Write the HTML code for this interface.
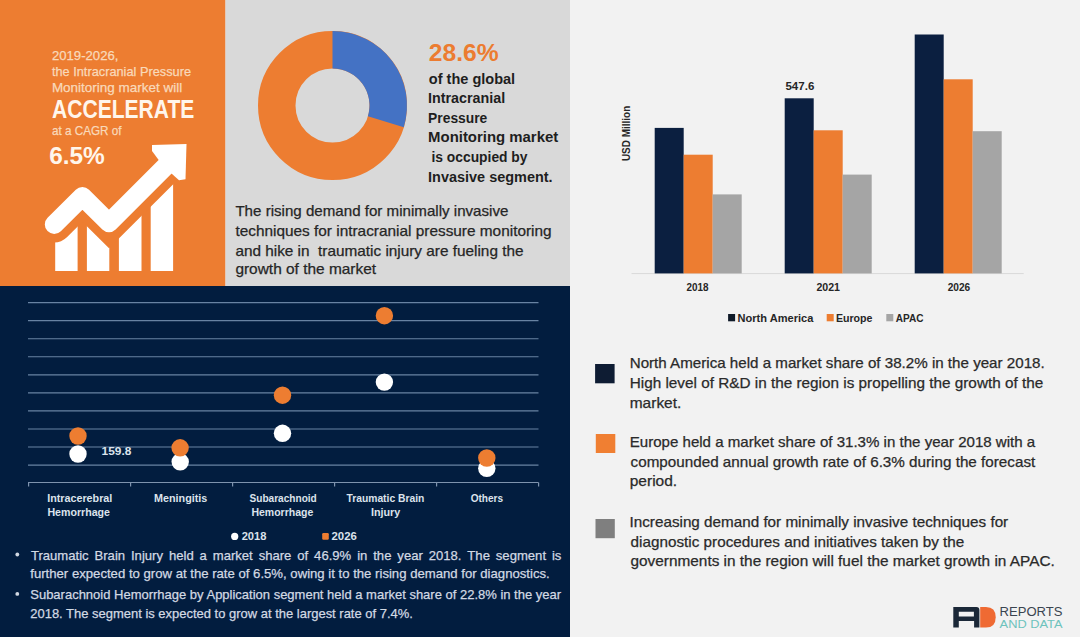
<!DOCTYPE html>
<html><head><meta charset="utf-8"><style>
html,body{margin:0;padding:0;background:#F2F2F2;width:1080px;height:637px;overflow:hidden;font-family:"Liberation Sans",sans-serif;}
svg{display:block;}
text{white-space:pre;}
</style></head><body>
<svg width="1080" height="637" viewBox="0 0 1080 637">
<rect x="0" y="0" width="1080" height="637" fill="#F2F2F2"/>
<rect x="0" y="0" width="225.5" height="286" fill="#ED7D31"/>
<rect x="225.5" y="0" width="344.5" height="286" fill="#D9D9D9"/>
<rect x="0" y="286" width="570" height="351" fill="#021D3F"/>
<rect x="55.2" y="200" width="22.4" height="71" fill="#FFFFFF"/>
<rect x="86.9" y="170" width="22.4" height="101" fill="#FFFFFF"/>
<rect x="118.9" y="170" width="22.6" height="101" fill="#FFFFFF"/>
<rect x="150.7" y="170" width="22.4" height="101" fill="#FFFFFF"/>
<polyline points="54.2,224.5 82.4,196.5 109,222.9 172,159.9" fill="none" stroke="#ED7D31" stroke-width="36" stroke-linejoin="miter" stroke-linecap="round"/>
<polygon points="30,248.7 82.4,196.5 109,222.9 190,141.9 190,100 30,100" fill="#ED7D31"/>
<polyline points="54.2,224.5 82.4,196.5 109,222.9 172,159.9" fill="none" stroke="#FFFFFF" stroke-width="18.8" stroke-linejoin="round" stroke-linecap="round"/>
<polygon points="152,145 186.5,144 185.5,179.3 179,180.2 171.5,173.6 158.7,160 152,151" fill="#FFFFFF"/>
<circle cx="332.5" cy="105.5" r="55.75" fill="none" stroke="#ED7D31" stroke-width="37.5"/>
<path d="M332.5,31.0 A74.5,74.5 0 0 1 403.78,127.18 L367.90,116.27 A37,37 0 0 0 332.5,68.5 Z" fill="#4472C4"/>
<line x1="28" y1="302.60" x2="538.5" y2="302.60" stroke="#6883A3" stroke-width="1.15"/>
<line x1="28" y1="320.65" x2="538.5" y2="320.65" stroke="#6883A3" stroke-width="1.15"/>
<line x1="28" y1="338.70" x2="538.5" y2="338.70" stroke="#6883A3" stroke-width="1.15"/>
<line x1="28" y1="356.75" x2="538.5" y2="356.75" stroke="#6883A3" stroke-width="1.15"/>
<line x1="28" y1="374.80" x2="538.5" y2="374.80" stroke="#6883A3" stroke-width="1.15"/>
<line x1="28" y1="392.85" x2="538.5" y2="392.85" stroke="#6883A3" stroke-width="1.15"/>
<line x1="28" y1="410.90" x2="538.5" y2="410.90" stroke="#6883A3" stroke-width="1.15"/>
<line x1="28" y1="428.95" x2="538.5" y2="428.95" stroke="#6883A3" stroke-width="1.15"/>
<line x1="28" y1="447.00" x2="538.5" y2="447.00" stroke="#6883A3" stroke-width="1.15"/>
<line x1="28" y1="465.05" x2="538.5" y2="465.05" stroke="#6883A3" stroke-width="1.15"/>
<line x1="28" y1="482.5" x2="538.5" y2="482.5" stroke="#7E93AE" stroke-width="1.2"/>
<line x1="28.6" y1="482.5" x2="28.6" y2="486.5" stroke="#7E93AE" stroke-width="1.2"/>
<line x1="130.6" y1="482.5" x2="130.6" y2="486.5" stroke="#7E93AE" stroke-width="1.2"/>
<line x1="232.6" y1="482.5" x2="232.6" y2="486.5" stroke="#7E93AE" stroke-width="1.2"/>
<line x1="334.6" y1="482.5" x2="334.6" y2="486.5" stroke="#7E93AE" stroke-width="1.2"/>
<line x1="436.6" y1="482.5" x2="436.6" y2="486.5" stroke="#7E93AE" stroke-width="1.2"/>
<line x1="538.6" y1="482.5" x2="538.6" y2="486.5" stroke="#7E93AE" stroke-width="1.2"/>
<circle cx="78" cy="454" r="8.7" fill="#FFFFFF"/>
<circle cx="180.2" cy="461.8" r="8.7" fill="#FFFFFF"/>
<circle cx="282.5" cy="433.3" r="8.7" fill="#FFFFFF"/>
<circle cx="384.4" cy="382.1" r="8.7" fill="#FFFFFF"/>
<circle cx="486.8" cy="468.3" r="8.7" fill="#FFFFFF"/>
<circle cx="78" cy="436" r="8.7" fill="#ED7D31"/>
<circle cx="180.1" cy="447.8" r="8.7" fill="#ED7D31"/>
<circle cx="282.5" cy="395.2" r="8.7" fill="#ED7D31"/>
<circle cx="384.4" cy="315.7" r="8.7" fill="#ED7D31"/>
<circle cx="486.8" cy="458" r="8.7" fill="#ED7D31"/>
<circle cx="234.7" cy="536.4" r="3.6" fill="#FFFFFF"/>
<rect x="322.2" y="533" width="6.6" height="6.8" rx="1.2" fill="#ED7D31"/>
<circle cx="17.3" cy="554.5" r="1.9" fill="#D2D9E3"/>
<circle cx="17.3" cy="593.9" r="1.9" fill="#D2D9E3"/>
<line x1="631.5" y1="273.6" x2="1023.7" y2="273.6" stroke="#D9D9D9" stroke-width="1"/>
<rect x="654.7" y="127.9" width="29" height="145.49999999999997" fill="#0B1F40"/>
<rect x="683.7" y="154.7" width="29" height="118.69999999999999" fill="#ED7D31"/>
<rect x="712.7" y="194.4" width="29" height="78.99999999999997" fill="#A5A5A5"/>
<rect x="784.7" y="98.3" width="29" height="175.09999999999997" fill="#0B1F40"/>
<rect x="813.7" y="130.3" width="29" height="143.09999999999997" fill="#ED7D31"/>
<rect x="842.7" y="174.6" width="29" height="98.79999999999998" fill="#A5A5A5"/>
<rect x="914.7" y="34.5" width="29" height="238.89999999999998" fill="#0B1F40"/>
<rect x="943.7" y="79.3" width="29" height="194.09999999999997" fill="#ED7D31"/>
<rect x="972.7" y="131.2" width="29" height="142.2" fill="#A5A5A5"/>
<rect x="728.1" y="314" width="7" height="7.3" fill="#0F1A28"/>
<rect x="826.7" y="314" width="7" height="7.3" fill="#ED7D31"/>
<rect x="886.3" y="314" width="7" height="7.3" fill="#A5A5A5"/>
<rect x="595.1" y="364" width="19.5" height="19.3" fill="#0E1C33"/>
<rect x="595.8" y="434" width="19.5" height="19" fill="#F07F32"/>
<rect x="595.5" y="519" width="19.3" height="19.2" fill="#7F7F7F"/>
<text transform="translate(630,161.1) rotate(-90)" font-family="Liberation Sans" font-weight="700" font-size="10" fill="#262626" textLength="55.4" lengthAdjust="spacingAndGlyphs">USD Million</text>
<path d="M953.3,607 H976.4 Q979.4,607 979.4,610 V627.6 H974.1 V621.1 H958.8 V627.6 H953.3 Z M958.8,611.8 V616.6 H973.9 V611.8 Z" fill="#1B2838" fill-rule="evenodd"/>
<path d="M980.2,607 H986 Q995.7,607 995.7,617.3 Q995.7,627.6 986,627.6 H980.2 Z" fill="#EF6A33"/>
<text x="999.6" y="616.25" font-family="Liberation Sans" font-size="12.5" fill="#3A4450" textLength="62.9" lengthAdjust="spacingAndGlyphs">REPORTS</text>
<text x="999.6" y="627.5" font-family="Liberation Sans" font-size="11.5" fill="#6EC3BD" textLength="62.9" lengthAdjust="spacingAndGlyphs">AND DATA</text>
<text id="t0" x="51.90" y="59.6" font-family="Liberation Sans" font-weight="400" font-size="12.8" fill="#F9D9BA" stroke="#F9D9BA" stroke-width="0.25" textLength="66.54" lengthAdjust="spacingAndGlyphs">2019-2026,</text>
<text id="t1" x="51.90" y="76.0" font-family="Liberation Sans" font-weight="400" font-size="12.8" fill="#F9D9BA" stroke="#F9D9BA" stroke-width="0.25" textLength="139.20" lengthAdjust="spacingAndGlyphs">the Intracranial Pressure</text>
<text id="t2" x="51.90" y="92.1" font-family="Liberation Sans" font-weight="400" font-size="12.8" fill="#F9D9BA" stroke="#F9D9BA" stroke-width="0.25" textLength="130.30" lengthAdjust="spacingAndGlyphs">Monitoring market will</text>
<text id="t3" x="52.10" y="117.9" font-family="Liberation Sans" font-weight="700" font-size="25" fill="#FFF6EC" textLength="142.24" lengthAdjust="spacingAndGlyphs">ACCELERATE</text>
<text id="t4" x="52.00" y="134.7" font-family="Liberation Sans" font-weight="400" font-size="12.8" fill="#F9D9BA" stroke="#F9D9BA" stroke-width="0.25" textLength="69.56" lengthAdjust="spacingAndGlyphs">at a CAGR of</text>
<text id="t5" x="49.20" y="164.4" font-family="Liberation Sans" font-weight="700" font-size="23.5" fill="#FFF6EC" textLength="55.60" lengthAdjust="spacingAndGlyphs">6.5%</text>
<text id="t6" x="428.80" y="60.7" font-family="Liberation Sans" font-weight="700" font-size="23.5" fill="#EC7C30" textLength="69.82" lengthAdjust="spacingAndGlyphs">28.6%</text>
<text id="t7" x="428.80" y="84.0" font-family="Liberation Sans" font-weight="700" font-size="14.0" fill="#1E1E1E" textLength="86.36" lengthAdjust="spacingAndGlyphs">of the global</text>
<text id="t8" x="428.08" y="102.9" font-family="Liberation Sans" font-weight="700" font-size="14.0" fill="#1E1E1E" textLength="77.08" lengthAdjust="spacingAndGlyphs">Intracranial</text>
<text id="t9" x="428.08" y="122.5" font-family="Liberation Sans" font-weight="700" font-size="14.0" fill="#1E1E1E" textLength="59.22" lengthAdjust="spacingAndGlyphs">Pressure</text>
<text id="t10" x="428.08" y="142.3" font-family="Liberation Sans" font-weight="700" font-size="14.0" fill="#1E1E1E" textLength="130.18" lengthAdjust="spacingAndGlyphs">Monitoring market</text>
<text id="t11" x="431.44" y="161.9" font-family="Liberation Sans" font-weight="700" font-size="14.0" fill="#1E1E1E" textLength="96.06" lengthAdjust="spacingAndGlyphs">is occupied by</text>
<text id="t12" x="428.08" y="182.0" font-family="Liberation Sans" font-weight="700" font-size="14.0" fill="#1E1E1E" textLength="124.54" lengthAdjust="spacingAndGlyphs">Invasive segment.</text>
<text id="t13" x="235.40" y="216.4" font-family="Liberation Sans" font-weight="400" font-size="14.5" fill="#262626" stroke="#262626" stroke-width="0.25" textLength="273.00" lengthAdjust="spacingAndGlyphs">The rising demand for minimally invasive</text>
<text id="t14" x="235.40" y="236.0" font-family="Liberation Sans" font-weight="400" font-size="14.5" fill="#262626" stroke="#262626" stroke-width="0.25" textLength="316.22" lengthAdjust="spacingAndGlyphs">techniques for intracranial pressure monitoring</text>
<text id="t15" x="235.40" y="255.5" font-family="Liberation Sans" font-weight="400" font-size="14.5" fill="#262626" stroke="#262626" stroke-width="0.25" textLength="288.10" lengthAdjust="spacingAndGlyphs">and hike in  traumatic injury are fueling the</text>
<text id="t16" x="235.40" y="274.3" font-family="Liberation Sans" font-weight="400" font-size="14.5" fill="#262626" stroke="#262626" stroke-width="0.25" textLength="140.70" lengthAdjust="spacingAndGlyphs">growth of the market</text>
<text x="30.90" y="560.1" font-family="Liberation Sans" font-weight="400" font-size="13.2" fill="#D2D9E3" stroke="#D2D9E3" stroke-width="0.25" textLength="57.73" lengthAdjust="spacingAndGlyphs">Traumatic</text>
<text x="94.52" y="560.1" font-family="Liberation Sans" font-weight="400" font-size="13.2" fill="#D2D9E3" stroke="#D2D9E3" stroke-width="0.25" textLength="30.57" lengthAdjust="spacingAndGlyphs">Brain</text>
<text x="130.99" y="560.1" font-family="Liberation Sans" font-weight="400" font-size="13.2" fill="#D2D9E3" stroke="#D2D9E3" stroke-width="0.25" textLength="32.03" lengthAdjust="spacingAndGlyphs">Injury</text>
<text x="168.91" y="560.1" font-family="Liberation Sans" font-weight="400" font-size="13.2" fill="#D2D9E3" stroke="#D2D9E3" stroke-width="0.25" textLength="24.76" lengthAdjust="spacingAndGlyphs">held</text>
<text x="199.56" y="560.1" font-family="Liberation Sans" font-weight="400" font-size="13.2" fill="#D2D9E3" stroke="#D2D9E3" stroke-width="0.25" textLength="7.28" lengthAdjust="spacingAndGlyphs">a</text>
<text x="212.74" y="560.1" font-family="Liberation Sans" font-weight="400" font-size="13.2" fill="#D2D9E3" stroke="#D2D9E3" stroke-width="0.25" textLength="40.03" lengthAdjust="spacingAndGlyphs">market</text>
<text x="258.65" y="560.1" font-family="Liberation Sans" font-weight="400" font-size="13.2" fill="#D2D9E3" stroke="#D2D9E3" stroke-width="0.25" textLength="32.76" lengthAdjust="spacingAndGlyphs">share</text>
<text x="297.31" y="560.1" font-family="Liberation Sans" font-weight="400" font-size="13.2" fill="#D2D9E3" stroke="#D2D9E3" stroke-width="0.25" textLength="10.92" lengthAdjust="spacingAndGlyphs">of</text>
<text x="314.12" y="560.1" font-family="Liberation Sans" font-weight="400" font-size="13.2" fill="#D2D9E3" stroke="#D2D9E3" stroke-width="0.25" textLength="37.13" lengthAdjust="spacingAndGlyphs">46.9%</text>
<text x="357.14" y="560.1" font-family="Liberation Sans" font-weight="400" font-size="13.2" fill="#D2D9E3" stroke="#D2D9E3" stroke-width="0.25" textLength="10.19" lengthAdjust="spacingAndGlyphs">in</text>
<text x="373.23" y="560.1" font-family="Liberation Sans" font-weight="400" font-size="13.2" fill="#D2D9E3" stroke="#D2D9E3" stroke-width="0.25" textLength="18.21" lengthAdjust="spacingAndGlyphs">the</text>
<text x="397.33" y="560.1" font-family="Liberation Sans" font-weight="400" font-size="13.2" fill="#D2D9E3" stroke="#D2D9E3" stroke-width="0.25" textLength="25.48" lengthAdjust="spacingAndGlyphs">year</text>
<text x="428.70" y="560.1" font-family="Liberation Sans" font-weight="400" font-size="13.2" fill="#D2D9E3" stroke="#D2D9E3" stroke-width="0.25" textLength="32.77" lengthAdjust="spacingAndGlyphs">2018.</text>
<text x="467.36" y="560.1" font-family="Liberation Sans" font-weight="400" font-size="13.2" fill="#D2D9E3" stroke="#D2D9E3" stroke-width="0.25" textLength="22.57" lengthAdjust="spacingAndGlyphs">The</text>
<text x="495.82" y="560.1" font-family="Liberation Sans" font-weight="400" font-size="13.2" fill="#D2D9E3" stroke="#D2D9E3" stroke-width="0.25" textLength="50.23" lengthAdjust="spacingAndGlyphs">segment</text>
<text x="551.94" y="560.1" font-family="Liberation Sans" font-weight="400" font-size="13.2" fill="#D2D9E3" stroke="#D2D9E3" stroke-width="0.25" textLength="9.46" lengthAdjust="spacingAndGlyphs">is</text>
<text id="t18" x="30.26" y="578.4" font-family="Liberation Sans" font-weight="400" font-size="13.2" fill="#D2D9E3" stroke="#D2D9E3" stroke-width="0.25" textLength="519.44" lengthAdjust="spacingAndGlyphs">further expected to grow at the rate of 6.5%, owing it to the rising demand for diagnostics.</text>
<text id="t19" x="30.26" y="599.0" font-family="Liberation Sans" font-weight="400" font-size="13.2" fill="#D2D9E3" stroke="#D2D9E3" stroke-width="0.25" textLength="530.82" lengthAdjust="spacingAndGlyphs">Subarachnoid Hemorrhage by Application segment held a market share of 22.8% in the year</text>
<text id="t20" x="30.26" y="617.9" font-family="Liberation Sans" font-weight="400" font-size="13.2" fill="#D2D9E3" stroke="#D2D9E3" stroke-width="0.25" textLength="382.62" lengthAdjust="spacingAndGlyphs">2018. The segment is expected to grow at the largest rate of 7.4%.</text>
<text id="t21" x="629.72" y="368.1" font-family="Liberation Sans" font-weight="400" font-size="14.3" fill="#2A2A2A" stroke="#2A2A2A" stroke-width="0.25" textLength="414.98" lengthAdjust="spacingAndGlyphs">North America held a market share of 38.2% in the year 2018.</text>
<text id="t22" x="629.72" y="388.3" font-family="Liberation Sans" font-weight="400" font-size="14.3" fill="#2A2A2A" stroke="#2A2A2A" stroke-width="0.25" textLength="413.54" lengthAdjust="spacingAndGlyphs">High level of R&amp;D in the region is propelling the growth of the</text>
<text id="t23" x="629.72" y="407.8" font-family="Liberation Sans" font-weight="400" font-size="14.3" fill="#2A2A2A" stroke="#2A2A2A" stroke-width="0.25" textLength="51.62" lengthAdjust="spacingAndGlyphs">market.</text>
<text id="t24" x="629.72" y="446.8" font-family="Liberation Sans" font-weight="400" font-size="14.3" fill="#2A2A2A" stroke="#2A2A2A" stroke-width="0.25" textLength="405.54" lengthAdjust="spacingAndGlyphs">Europe held a market share of 31.3% in the year 2018 with a</text>
<text id="t25" x="630.60" y="466.7" font-family="Liberation Sans" font-weight="400" font-size="14.3" fill="#2A2A2A" stroke="#2A2A2A" stroke-width="0.25" textLength="404.66" lengthAdjust="spacingAndGlyphs">compounded annual growth rate of 6.3% during the forecast</text>
<text id="t26" x="629.72" y="486.2" font-family="Liberation Sans" font-weight="400" font-size="14.3" fill="#2A2A2A" stroke="#2A2A2A" stroke-width="0.25" textLength="47.44" lengthAdjust="spacingAndGlyphs">period.</text>
<text id="t27" x="629.54" y="527.0" font-family="Liberation Sans" font-weight="400" font-size="14.3" fill="#2A2A2A" stroke="#2A2A2A" stroke-width="0.25" textLength="378.66" lengthAdjust="spacingAndGlyphs">Increasing demand for minimally invasive techniques for</text>
<text id="t28" x="630.50" y="546.7" font-family="Liberation Sans" font-weight="400" font-size="14.3" fill="#2A2A2A" stroke="#2A2A2A" stroke-width="0.25" textLength="333.84" lengthAdjust="spacingAndGlyphs">diagnostic procedures and initiatives taken by the</text>
<text id="t29" x="630.50" y="566.3" font-family="Liberation Sans" font-weight="400" font-size="14.3" fill="#2A2A2A" stroke="#2A2A2A" stroke-width="0.25" textLength="424.28" lengthAdjust="spacingAndGlyphs">governments in the region will fuel the market growth in APAC.</text>
<text id="t30" x="101.60" y="455.1" font-family="Liberation Sans" font-weight="700" font-size="11.2" fill="#DCE3EC" textLength="29.80" lengthAdjust="spacingAndGlyphs">159.8</text>
<text id="t31" x="47.20" y="501.7" font-family="Liberation Sans" font-weight="700" font-size="10.2" fill="#DCE3EC" textLength="65.14" lengthAdjust="spacingAndGlyphs">Intracerebral</text>
<text id="t32" x="47.44" y="516.0" font-family="Liberation Sans" font-weight="700" font-size="10.2" fill="#DCE3EC" textLength="62.56" lengthAdjust="spacingAndGlyphs">Hemorrhage</text>
<text id="t33" x="154.08" y="501.7" font-family="Liberation Sans" font-weight="700" font-size="10.2" fill="#DCE3EC" textLength="53.18" lengthAdjust="spacingAndGlyphs">Meningitis</text>
<text id="t34" x="249.50" y="501.7" font-family="Liberation Sans" font-weight="700" font-size="10.2" fill="#DCE3EC" textLength="67.30" lengthAdjust="spacingAndGlyphs">Subarachnoid</text>
<text id="t35" x="251.44" y="516.0" font-family="Liberation Sans" font-weight="700" font-size="10.2" fill="#DCE3EC" textLength="61.86" lengthAdjust="spacingAndGlyphs">Hemorrhage</text>
<text id="t36" x="346.50" y="501.7" font-family="Liberation Sans" font-weight="700" font-size="10.2" fill="#DCE3EC" textLength="77.80" lengthAdjust="spacingAndGlyphs">Traumatic Brain</text>
<text id="t37" x="370.90" y="516.0" font-family="Liberation Sans" font-weight="700" font-size="10.2" fill="#DCE3EC" textLength="29.30" lengthAdjust="spacingAndGlyphs">Injury</text>
<text id="t38" x="470.70" y="501.7" font-family="Liberation Sans" font-weight="700" font-size="10.2" fill="#DCE3EC" textLength="32.40" lengthAdjust="spacingAndGlyphs">Others</text>
<text id="t39" x="241.70" y="540.0" font-family="Liberation Sans" font-weight="700" font-size="11.0" fill="#DCE3EC" textLength="24.74" lengthAdjust="spacingAndGlyphs">2018</text>
<text id="t40" x="331.50" y="540.0" font-family="Liberation Sans" font-weight="700" font-size="11.0" fill="#DCE3EC" textLength="25.30" lengthAdjust="spacingAndGlyphs">2026</text>
<text id="t41" x="785.44" y="89.8" font-family="Liberation Sans" font-weight="700" font-size="10.2" fill="#262626" textLength="28.86" lengthAdjust="spacingAndGlyphs">547.6</text>
<text id="t42" x="686.44" y="290.7" font-family="Liberation Sans" font-weight="700" font-size="10.2" fill="#262626" textLength="21.96" lengthAdjust="spacingAndGlyphs">2018</text>
<text id="t43" x="816.44" y="290.7" font-family="Liberation Sans" font-weight="700" font-size="10.2" fill="#262626" textLength="23.56" lengthAdjust="spacingAndGlyphs">2021</text>
<text id="t44" x="947.70" y="290.7" font-family="Liberation Sans" font-weight="700" font-size="10.2" fill="#262626" textLength="22.56" lengthAdjust="spacingAndGlyphs">2026</text>
<text id="t45" x="737.62" y="321.6" font-family="Liberation Sans" font-weight="700" font-size="10.2" fill="#262626" textLength="75.68" lengthAdjust="spacingAndGlyphs">North America</text>
<text id="t46" x="835.90" y="321.6" font-family="Liberation Sans" font-weight="700" font-size="10.2" fill="#262626" textLength="36.54" lengthAdjust="spacingAndGlyphs">Europe</text>
<text id="t47" x="895.70" y="321.6" font-family="Liberation Sans" font-weight="700" font-size="10.2" fill="#262626" textLength="27.70" lengthAdjust="spacingAndGlyphs">APAC</text>
</svg>
</body></html>
